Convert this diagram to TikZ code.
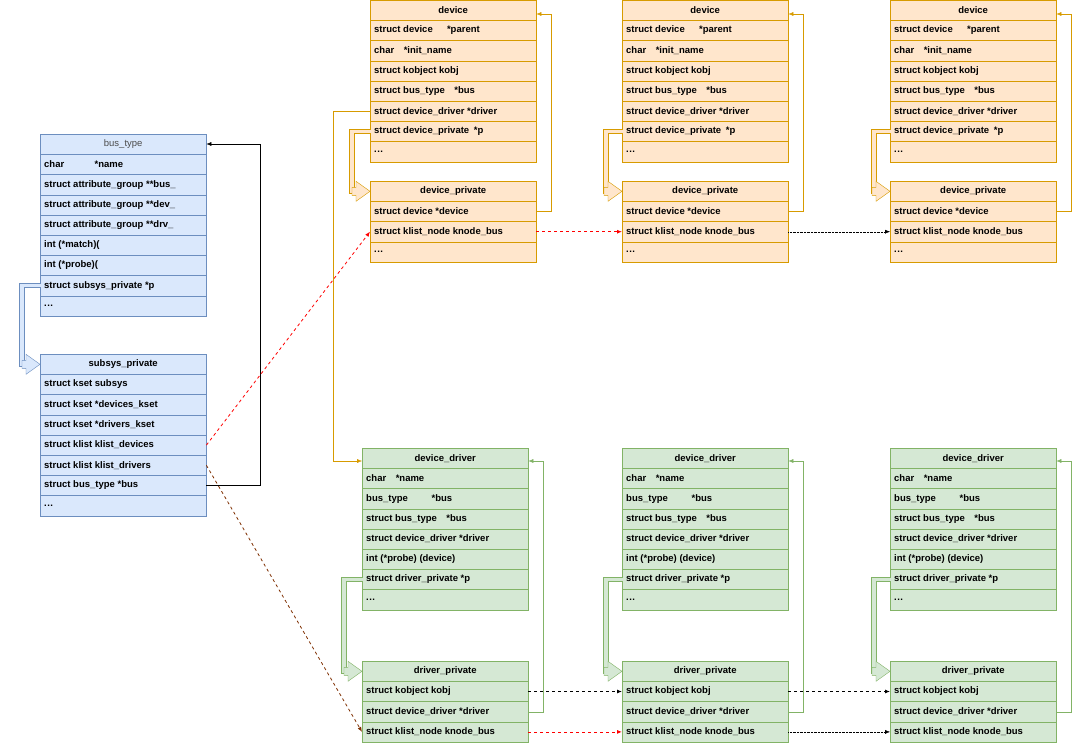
\documentclass[tikz,border=0pt]{standalone}
\usepackage{fontspec}
\setmainfont{Liberation Sans}
\usetikzlibrary{arrows.meta,calc}
\definecolor{bF}{HTML}{DAE8FC}\definecolor{bD}{HTML}{6C8EBF}
\definecolor{oF}{HTML}{FFE6CC}\definecolor{oD}{HTML}{D79B00}
\definecolor{gF}{HTML}{D5E8D4}\definecolor{gD}{HTML}{82B366}
\definecolor{brn}{HTML}{7F2F00}
\newcommand\mytable[5]{%
  \foreach \t [count=\i from 0] in {#5}{%
    \ifnum\i=0
      \node[cell,#4,anchor=north west,align=center] (#1-\i) at (#2,#3+\i*20.2) {\makebox[158pt][c]{\t}};
    \else
      \node[cell,#4,anchor=north west] (#1-\i) at (#2,#3+\i*20.2) {\makebox[158pt][l]{\t}};
    \fi}}
\newcommand\dd{.\kern0.5pt.\kern0.5pt.}
\begin{document}
\begin{tikzpicture}[x=1pt,y=-1pt,
  cell/.style={draw,minimum width=166pt,minimum height=20.2pt,inner sep=0pt,font=\fontsize{9.5}{11}\selectfont\bfseries},
  B/.style={fill=bF,draw=bD},O/.style={fill=oF,draw=oD},G/.style={fill=gF,draw=gD},
  ar/.style={-{Latex[length=5pt,width=4pt]}},
]
\useasboundingbox (0,0) rectangle (1084,742);
\fill[white] (0,0) rectangle (1084,742);

\def\blk#1#2#3#4#5{%
  \draw[line width=5.5pt,#4] (#1.west) -- (#3,0|-#1.west) -- (#3,0|-#2.west) -- ($(#2.west)+(-13,0)$);
  \draw[line width=3.5pt,#5] ($(#1.west)+(1,0)$) -- (#3,0|-#1.west) -- (#3,0|-#2.west) -- ($(#2.west)+(-12,0)$);
  \filldraw[draw=#4,fill=#5] (#2.west) -- ++(-14,-10) -- ++(0,6) -- ++(-4,0) -- ++(0,8) -- ++(4,0) -- ++(0,6) -- cycle;}

\mytable{bt}{40}{134}{B}{{\mdseries\color{black!70}bus\_type},char\hspace{3.2em}*name,struct attribute\_group **bus\_,struct attribute\_group **dev\_,struct attribute\_group **drv\_,int (*match)(,int (*probe)(,struct subsys\_private *p,\dd}
\mytable{sp}{40}{354}{B}{subsys\_private,struct kset subsys,struct kset *devices\_kset,struct kset *drivers\_kset,struct klist klist\_devices,struct klist klist\_drivers,struct bus\_type *bus,\dd}

\foreach \c/\x in {1/370,2/622,3/890}{
  \mytable{d\c}{\x}{0}{O}{device,struct device\hspace{1.5em}*parent,char\hspace{1em}*init\_name,struct kobject kobj,struct bus\_type\hspace{1em}*bus,struct device\_driver *driver,struct device\_private\hspace{0.5em}*p,\dd}
  \mytable{dp\c}{\x}{181}{O}{device\_private,struct device *device,struct klist\_node knode\_bus,\dd}
}
\foreach \c/\x in {1/362,2/622,3/890}{
  \mytable{dd\c}{\x}{448}{G}{device\_driver,char\hspace{1em}*name,bus\_type\hspace{2.5em}*bus,struct bus\_type\hspace{1em}*bus,struct device\_driver *driver,int (*probe) (device),struct driver\_private *p,\dd}
  \mytable{pr\c}{\x}{661}{G}{driver\_private,struct kobject kobj,struct device\_driver *driver,struct klist\_node knode\_bus}
}

\blk{bt-7}{sp-0}{22}{bD}{bF}
\foreach \c/\v in {1/352,2/606,3/874}{
  \blk{d\c-6}{dp\c-0}{\v}{oD}{oF}
}
\foreach \c/\v in {1/344,2/606,3/874}{
  \blk{dd\c-6}{pr\c-0}{\v}{gD}{gF}
}

\draw[ar,black] (sp-6.east) -- (260,0|-sp-6.east) -- (260,144) -- (bt-0.east|-0,144);
\foreach \c in {1,2,3}{
  \draw[ar,oD] (dp\c-1.east) -- ++(15,0) |- ($(d\c-0.north east)+(0,14)$);
  \draw[ar,gD] (pr\c-2.east) -- ++(15,0) |- ($(dd\c-0.north east)+(0,13)$);
}
\draw[ar,oD] (d1-5.west) -- (333,0|-d1-5.west) |- ($(dd1-0.north west)+(0,13)$);

\draw[ar,red,dashed,thick] (sp-4.east) -- (dp1-2.west);
\draw[ar,brn,dashed,thick] (sp-5.east) -- (pr1-3.west);
\draw[ar,red,dashed,thick] (dp1-2.east) -- (dp2-2.west);
\draw[ar,black,densely dotted] (dp2-2.east) -- (dp3-2.west);
\draw[ar,black,dashed,thick] (pr1-1.east) -- (pr2-1.west);
\draw[ar,black,dashed,thick] (pr2-1.east) -- (pr3-1.west);
\draw[ar,red,dashed,thick] (pr1-3.east) -- (pr2-3.west);
\draw[ar,black,densely dotted] (pr2-3.east) -- (pr3-3.west);
\end{tikzpicture}
\end{document}
